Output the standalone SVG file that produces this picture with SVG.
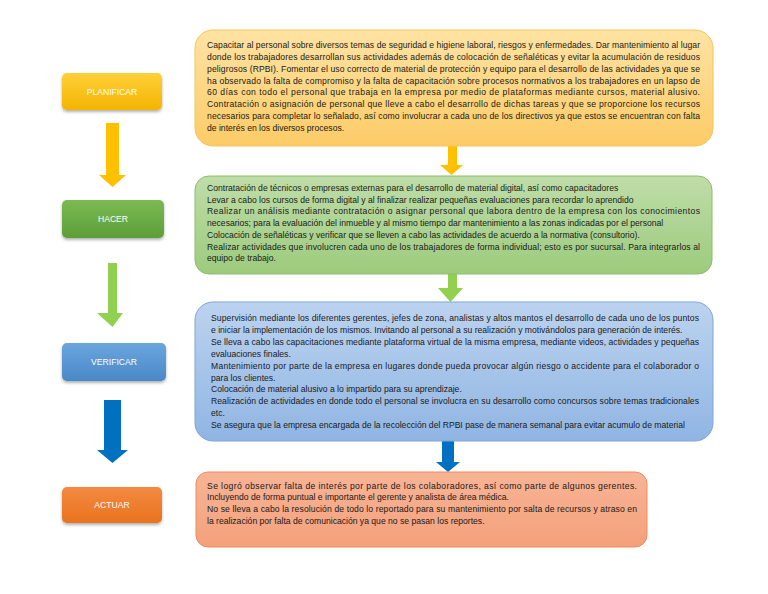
<svg xmlns="http://www.w3.org/2000/svg" width="768" height="594" viewBox="0 0 768 594">
<defs>
<linearGradient id="gY" x1="0" y1="0" x2="0" y2="1"><stop offset="0" stop-color="#FFCF3A"/><stop offset="1" stop-color="#F4B400"/></linearGradient>
<linearGradient id="gG" x1="0" y1="0" x2="0" y2="1"><stop offset="0" stop-color="#7BBA52"/><stop offset="1" stop-color="#5E9E38"/></linearGradient>
<linearGradient id="gB" x1="0" y1="0" x2="0" y2="1"><stop offset="0" stop-color="#6AA6DD"/><stop offset="1" stop-color="#4A88C8"/></linearGradient>
<linearGradient id="gO" x1="0" y1="0" x2="0" y2="1"><stop offset="0" stop-color="#F48A42"/><stop offset="1" stop-color="#E8731F"/></linearGradient>
<linearGradient id="bY" x1="0" y1="0" x2="0" y2="1"><stop offset="0" stop-color="#FFE3A3"/><stop offset="1" stop-color="#FCCB66"/></linearGradient>
<linearGradient id="bG" x1="0" y1="0" x2="0" y2="1"><stop offset="0" stop-color="#BFDDA8"/><stop offset="1" stop-color="#9CCB7D"/></linearGradient>
<linearGradient id="bB" x1="0" y1="0" x2="0" y2="1"><stop offset="0" stop-color="#BCD3EF"/><stop offset="1" stop-color="#90B5E3"/></linearGradient>
<linearGradient id="bO" x1="0" y1="0" x2="0" y2="1"><stop offset="0" stop-color="#F8B496"/><stop offset="1" stop-color="#F4A07A"/></linearGradient>
<filter id="sh" x="-10%" y="-10%" width="120%" height="140%"><feDropShadow dx="0" dy="2" stdDeviation="1.5" flood-color="#000" flood-opacity="0.3"/></filter>
</defs>
<style>
.lbl{font-family:"Liberation Sans",Arial,sans-serif;font-size:8.6px;fill:#FFFFFF;text-anchor:middle}
.t{font-family:"Liberation Sans",Arial,sans-serif;font-size:8.6px;fill:#1A1A1A}
.j{}
</style>
<rect width="768" height="594" fill="#FFFFFF"/>

<g id="connectors">
<polygon points="106,123 119,123 119,175 126,175 112.5,187 99,175 106,175" fill="#FFC000"/>
<polygon points="108,263 117,263 117,313 123,313 112.5,327 97,313 108,313" fill="#92D050"/>
<polygon points="104,400 121,400 121,450 128,450 112.5,463 97,450 104,450" fill="#0070C0"/>
<polygon points="448,146 457,146 457,165 463,165 451.5,175 440,165 448,165" fill="#FFC000"/>
<polygon points="448,274 457,274 457,288 463,288 450.5,302 438,288 448,288" fill="#92D050"/>
<polygon points="442,441 454,441 454,462 460,462 448,472 436,462 442,462" fill="#0070C0"/>
</g>

<g id="planificar"><rect x="62" y="73" width="100" height="37" rx="5" fill="url(#gY)" filter="url(#sh)"/><text class="lbl" x="112" y="94.5">PLANIFICAR</text></g>
<g id="hacer"><rect x="62" y="200" width="102" height="38" rx="5" fill="url(#gG)" filter="url(#sh)"/><text class="lbl" x="113" y="222">HACER</text></g>
<g id="verificar"><rect x="62" y="343" width="104" height="38" rx="5" fill="url(#gB)" filter="url(#sh)"/><text class="lbl" x="114" y="365">VERIFICAR</text></g>
<g id="actuar"><rect x="62" y="487" width="100" height="36" rx="5" fill="url(#gO)" filter="url(#sh)"/><text class="lbl" x="112" y="508">ACTUAR</text></g>

<g id="planificar-detalle">
<rect x="195" y="30" width="518" height="116" rx="18" fill="url(#bY)" stroke="#F6C45A" stroke-width="1"/>
<text class="t" x="207" y="48" textLength="493" lengthAdjust="spacing">Capacitar al personal sobre diversos temas de seguridad e higiene laboral, riesgos y enfermedades. Dar mantenimiento al lugar</text>
<text class="t" x="207" y="59.9" textLength="493" lengthAdjust="spacing">donde los trabajadores desarrollan sus actividades además de colocación de señaléticas y evitar la acumulación de residuos</text>
<text class="t" x="207" y="71.7" textLength="493" lengthAdjust="spacing">peligrosos (RPBI). Fomentar el uso correcto de material de protección y equipo para el desarrollo de las actividades ya que se</text>
<text class="t" x="207" y="83.6" textLength="493" lengthAdjust="spacing">ha observado la falta de compromiso y la falta de capacitación sobre procesos normativos a los trabajadores en un lapso de</text>
<text class="t" x="207" y="95.4" textLength="493" lengthAdjust="spacing">60 días con todo el personal que trabaja en la empresa por medio de plataformas mediante cursos, material alusivo.</text>
<text class="t" x="207" y="107.3" textLength="493" lengthAdjust="spacing">Contratación o asignación de personal que lleve a cabo el desarrollo de dichas tareas y que se proporcione los recursos</text>
<text class="t" x="207" y="119.1" textLength="493" lengthAdjust="spacing">necesarios para completar lo señalado, así como involucrar a cada uno de los directivos ya que estos se encuentran con falta</text>
<text class="t" x="207" y="131">de interés en los diversos procesos.</text>
</g>

<g id="hacer-detalle">
<rect x="195" y="176" width="517" height="98" rx="14" fill="url(#bG)" stroke="#8DBE6C" stroke-width="1"/>
<text class="t" x="207" y="191">Contratación de técnicos o empresas externas para el desarrollo de material digital, así como capacitadores</text>
<text class="t" x="207" y="202.7">Levar a cabo los cursos de forma digital y al finalizar realizar pequeñas evaluaciones para recordar lo aprendido</text>
<text class="t" x="207" y="214.4" textLength="493" lengthAdjust="spacing">Realizar un análisis mediante contratación o asignar personal que labora dentro de la empresa con los conocimientos</text>
<text class="t" x="207" y="226.1">necesarios; para la evaluación del inmueble y al mismo tiempo dar mantenimiento a las zonas indicadas por el personal</text>
<text class="t" x="207" y="237.8">Colocación de señaléticas y verificar que se lleven a cabo las actividades de acuerdo a la normativa (consultorio).</text>
<text class="t" x="207" y="249.5" textLength="493" lengthAdjust="spacing">Realizar actividades que involucren cada uno de los trabajadores de forma individual; esto es por sucursal. Para integrarlos al</text>
<text class="t" x="207" y="261.2">equipo de trabajo.</text>
</g>

<g id="verificar-detalle">
<rect x="195" y="302" width="518" height="139" rx="18" fill="url(#bB)" stroke="#7EA5D8" stroke-width="1"/>
<text class="t" x="211" y="321.3" textLength="488" lengthAdjust="spacing">Supervisión mediante los diferentes gerentes, jefes de zona, analistas y altos mantos el desarrollo de cada uno de los puntos</text>
<text class="t" x="211" y="333.2">e iniciar la implementación de los mismos. Invitando al personal a su realización y motivándolos para generación de interés.</text>
<text class="t" x="211" y="345" textLength="488" lengthAdjust="spacing">Se lleva a cabo las capacitaciones mediante plataforma virtual de la misma empresa, mediante videos, actividades y pequeñas</text>
<text class="t" x="211" y="356.9">evaluaciones finales.</text>
<text class="t" x="211" y="368.7" textLength="488" lengthAdjust="spacing">Mantenimiento por parte de la empresa en lugares donde pueda provocar algún riesgo o accidente para el colaborador o</text>
<text class="t" x="211" y="380.6">para los clientes.</text>
<text class="t" x="211" y="392.4">Colocación de material alusivo a lo impartido para su aprendizaje.</text>
<text class="t" x="211" y="404.3" textLength="488" lengthAdjust="spacing">Realización de actividades en donde todo el personal se involucra en su desarrollo como concursos sobre temas tradicionales</text>
<text class="t" x="211" y="416.1">etc.</text>
<text class="t" x="211" y="428">Se asegura que la empresa encargada de la recolección del RPBI pase de manera semanal para evitar acumulo de material</text>
</g>

<g id="actuar-detalle">
<rect x="196" y="472" width="451" height="75" rx="12" fill="url(#bO)" stroke="#F08A5C" stroke-width="1"/>
<text class="t" x="207" y="488.5" textLength="430" lengthAdjust="spacing">Se logró observar falta de interés por parte de los colaboradores, así como parte de algunos gerentes.</text>
<text class="t" x="207" y="500.2">Incluyendo de forma puntual e importante el gerente y analista de área médica.</text>
<text class="t" x="207" y="511.9" textLength="430" lengthAdjust="spacing">No se lleva a cabo la resolución de todo lo reportado para su mantenimiento por salta de recursos y atraso en</text>
<text class="t" x="207" y="523.6">la realización por falta de comunicación ya que no se pasan los reportes.</text>
</g>
</svg>
